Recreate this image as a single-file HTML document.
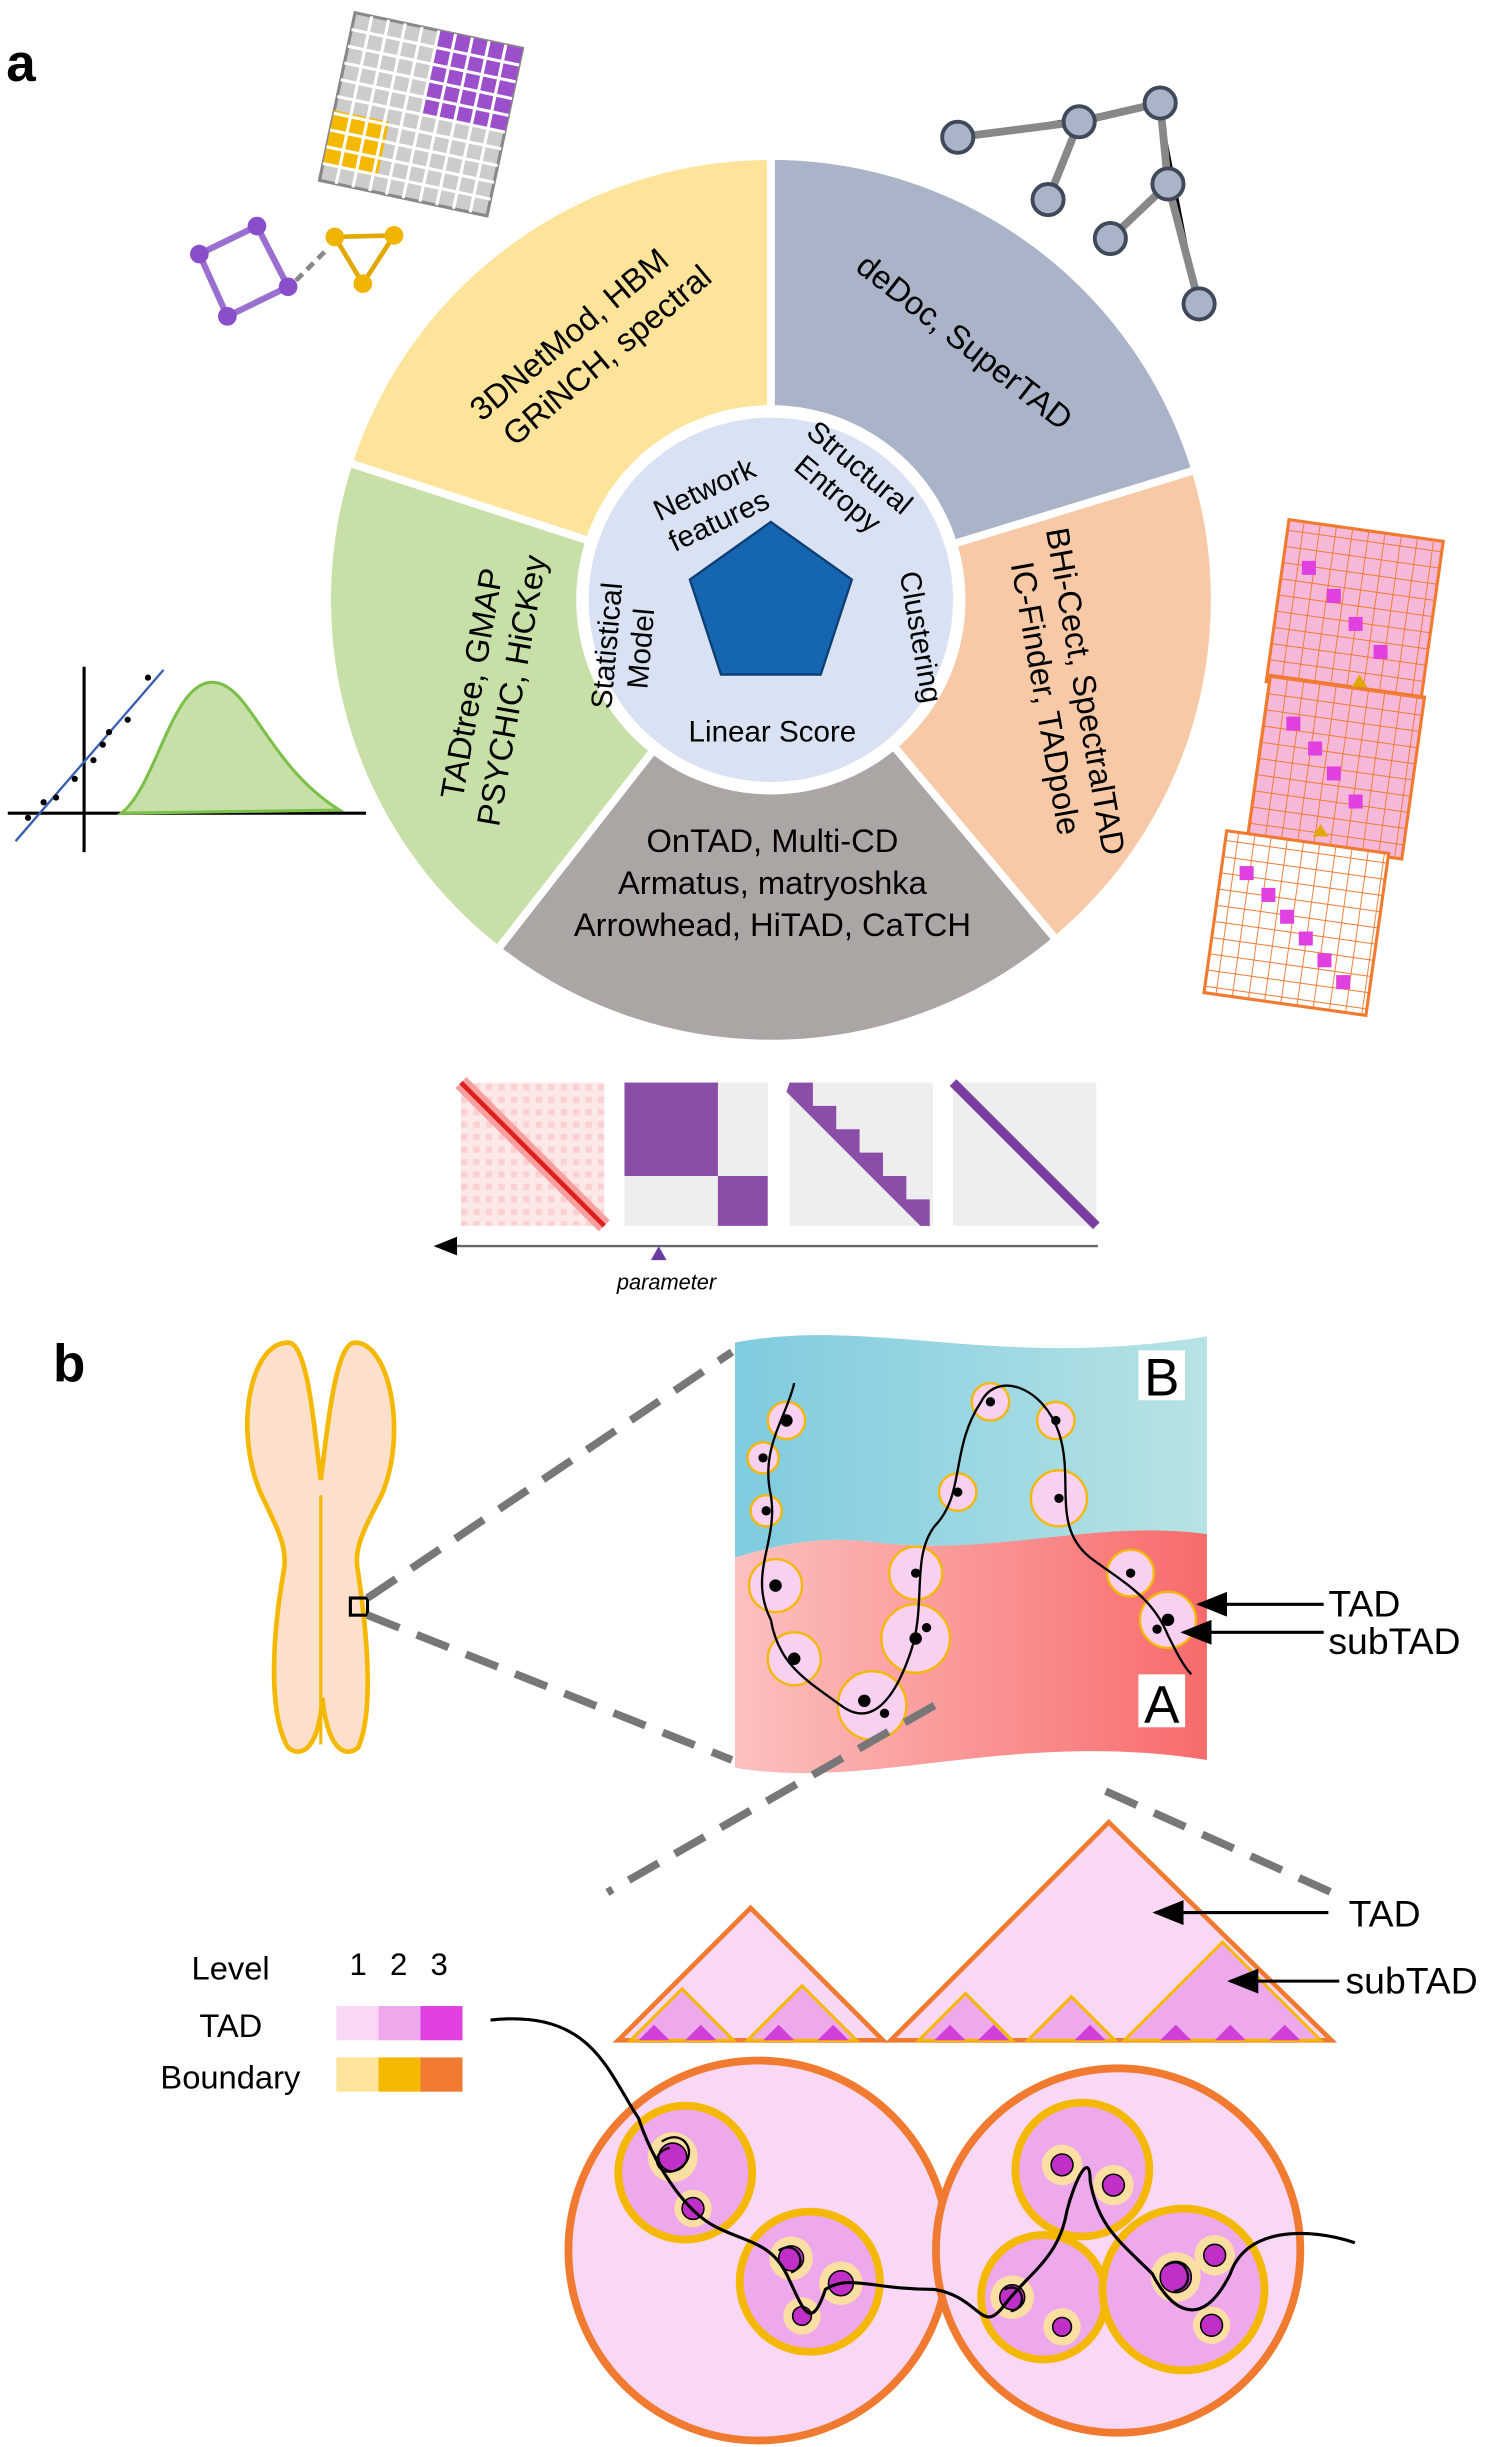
<!DOCTYPE html>
<html><head><meta charset="utf-8"><style>
html,body{margin:0;padding:0;background:#fff}
svg{display:block}
text{font-family:"Liberation Sans",Arial,sans-serif}
</style></head><body>
<svg width="1495" height="2447" viewBox="0 0 960 1571" xmlns="http://www.w3.org/2000/svg">
<defs>
<linearGradient id="gb" x1="0" x2="1"><stop offset="0" stop-color="#7fcbe0"/><stop offset="1" stop-color="#b7e3e3"/></linearGradient>
<linearGradient id="gr" x1="0" x2="1"><stop offset="0" stop-color="#fcc0c0"/><stop offset="1" stop-color="#f86b6b"/></linearGradient>
<marker id="ah" markerWidth="10" markerHeight="8" refX="9" refY="4" orient="auto"><path d="M0,0L10,4L0,8z" fill="#000"/></marker>
<pattern id="grd" width="10.5" height="10.5" patternUnits="userSpaceOnUse"><path d="M0,0H10.5M0,0V10.5" stroke="#f07a30" stroke-width="1.2" fill="none"/></pattern>
<pattern id="hm" width="8" height="8" patternUnits="userSpaceOnUse"><rect width="8" height="8" fill="#fde8e8"/><rect width="4" height="4" fill="#fbd0d0"/></pattern>
</defs>
<text x="4" y="52" font-size="34" font-weight="bold">a</text>
<text x="34" y="887" font-size="34" font-weight="bold">b</text>

<g transform="translate(495,385)" stroke="#fff" stroke-width="5">
<path d="M0,-285 A285,285 0 0 1 272.6,-83.3 L0,0z" fill="#aab4c8"/>
<path d="M272.6,-83.3 A285,285 0 0 1 183.2,218.3 L0,0z" fill="#f7c9a6"/>
<path d="M183.2,218.3 A285,285 0 0 1 -175.5,224.6 L0,0z" fill="#aba6a4"/>
<path d="M-175.5,224.6 A285,285 0 0 1 -271,-88 L0,0z" fill="#c6e0a8"/>
<path d="M-271,-88 A285,285 0 0 1 0,-285 L0,0z" fill="#fde49a"/>
<circle r="125" fill="#fff" stroke="none"/>
<circle r="117" fill="#d8e2f2" stroke="none"/>
<path d="M0,-50 L52,-13 L32,48 L-32,48 L-52,-13z" fill="#1565b0" stroke="#0d3f75" stroke-width="1.5"/>
</g>
<g font-size="19" text-anchor="middle">
<text transform="translate(455,320) rotate(-25)">Network<tspan x="0" dy="22">features</tspan></text>
<text transform="translate(548,305) rotate(40)">Structural<tspan x="0" dy="22">Entropy</tspan></text>
<text transform="translate(585,410) rotate(80)">Clustering</text>
<text x="496" y="476">Linear Score</text>
<text transform="translate(396,415) rotate(-85)">Statistical<tspan x="0" dy="22">Model</tspan></text>
</g>
<g font-size="21" text-anchor="middle">
<text transform="translate(370,220) rotate(-40)">3DNetMod, HBM<tspan x="10" dy="26">GRiNCH, spectral</tspan></text>
<text transform="translate(615,225) rotate(38)">deDoc, SuperTAD</text>
<text transform="translate(690,445) rotate(80)">BHi-Cect, SpectralTAD<tspan x="0" dy="26">IC-Finder, TADpole</tspan></text>
<text x="496" y="547">OnTAD, Multi-CD</text>
<text x="496" y="574">Armatus, matryoshka</text>
<text x="496" y="601">Arrowhead, HiTAD, CaTCH</text>
<text transform="translate(310,440) rotate(-80)">TADtree, GMAP<tspan x="0" dy="26">PSYCHIC, HiCKey</tspan></text>
</g>

<g transform="translate(228,8) rotate(12)">
<rect width="110" height="110" fill="#ccc"/>
<rect x="0" y="0" width="110" height="110" fill="none" stroke="#888" stroke-width="2"/>
<rect x="55" y="0" width="55" height="55" fill="#9b4fcb"/>
<rect x="0" y="64" width="36" height="36" fill="#f5b800"/>
<g stroke="#fff" stroke-width="2"><path d="M11,0V110M22,0V110M33,0V110M44,0V110M55,0V110M66,0V110M77,0V110M88,0V110M99,0V110M0,11H110M0,22H110M0,33H110M0,44H110M0,55H110M0,66H110M0,77H110M0,88H110M0,99H110"/></g>
</g>
<g stroke="#9b6fd0" stroke-width="4" fill="none"><path d="M128,163L165,145L185,184L146,203z"/></g>
<g fill="#8a4ecb"><circle cx="128" cy="163" r="6"/><circle cx="165" cy="145" r="6"/><circle cx="185" cy="184" r="6"/><circle cx="146" cy="203" r="6"/></g>
<path d="M190,180L210,160" stroke="#888" stroke-width="3" stroke-dasharray="6,4"/>
<path d="M215,152L253,151L233,182z" stroke="#e0a800" stroke-width="3" fill="none"/>
<g fill="#f0b400"><circle cx="215" cy="152" r="6"/><circle cx="253" cy="151" r="6"/><circle cx="233" cy="182" r="6"/></g>

<g stroke="#888" stroke-width="5"><path d="M615,88L693,78L745,66M693,78L673,128M745,66L750,118L770,195M750,118L713,153"/></g>
<g fill="#aab4c8" stroke="#3d4a5a" stroke-width="2.5"><circle cx="615" cy="88" r="10"/><circle cx="693" cy="78" r="10"/><circle cx="745" cy="66" r="10"/><circle cx="673" cy="128" r="10"/><circle cx="750" cy="118" r="10"/><circle cx="713" cy="153" r="10"/><circle cx="770" cy="195" r="10"/></g>

<path d="M54,428V547M5,522H235" stroke="#000" stroke-width="2"/>
<path d="M10,540L105,430" stroke="#3a5fb0" stroke-width="1.5"/>
<g fill="#000"><circle cx="18" cy="525" r="2"/><circle cx="28" cy="515" r="2"/><circle cx="36" cy="512" r="2"/><circle cx="48" cy="500" r="2"/><circle cx="60" cy="488" r="2"/><circle cx="70" cy="470" r="2"/><circle cx="82" cy="462" r="2"/><circle cx="95" cy="435" r="2"/><circle cx="66" cy="478" r="2"/></g>
<path d="M78,522C100,505 110,440 135,438C160,436 170,490 218,520Z" fill="#c6e0a8" stroke="#7cc04a" stroke-width="2"/>

<g transform="rotate(8 870 392)"><rect x="820" y="340" width="100" height="105" fill="#f6b8d8"/><rect x="820" y="340" width="100" height="105" fill="url(#grd)" stroke="#f07a30" stroke-width="2"/></g>
<g transform="rotate(8 858 492)"><rect x="808" y="440" width="100" height="105" fill="#f6b8d8"/><rect x="808" y="440" width="100" height="105" fill="url(#grd)" stroke="#f07a30" stroke-width="2"/></g>
<g transform="rotate(8 832 592)"><rect x="780" y="540" width="105" height="105" fill="#fff"/><rect x="780" y="540" width="105" height="105" fill="url(#grd)" stroke="#f07a30" stroke-width="2"/></g>
<g fill="#e040e0"><rect x="796" y="556" width="9" height="9"/><rect x="810" y="570" width="9" height="9"/><rect x="822" y="584" width="9" height="9"/><rect x="834" y="598" width="9" height="9"/><rect x="846" y="612" width="9" height="9"/><rect x="858" y="626" width="9" height="9"/>
<rect x="826" y="460" width="9" height="9"/><rect x="840" y="476" width="9" height="9"/><rect x="852" y="492" width="9" height="9"/><rect x="866" y="510" width="9" height="9"/>
<rect x="836" y="360" width="9" height="9"/><rect x="852" y="378" width="9" height="9"/><rect x="866" y="396" width="9" height="9"/><rect x="882" y="414" width="9" height="9"/></g>
<path d="M843,537l5,-8l5,8zM868,441l5,-8l5,8z" fill="#e0a800"/>

<rect x="296" y="695" width="92" height="92" fill="url(#hm)"/>
<path d="M296,695L388,787" stroke="#f8a0a0" stroke-width="10"/>
<path d="M296,695L388,787" stroke="#e02020" stroke-width="3"/>
<rect x="401" y="695" width="92" height="92" fill="#eee"/>
<rect x="401" y="695" width="60" height="60" fill="#8a4ea8"/><rect x="461" y="755" width="32" height="32" fill="#8a4ea8"/>
<rect x="507" y="695" width="92" height="92" fill="#eee"/>
<path d="M507,695h15v15h15v15h15v15h15v15h15v15h15v17h-6l-86,-86z" fill="#8a4ea8"/>
<rect x="612" y="695" width="92" height="92" fill="#eee"/>
<path d="M612,695L704,787" stroke="#7a3ea0" stroke-width="6"/>
<path d="M705,800H280" stroke="#666" stroke-width="1.5" marker-end="url(#ah)"/>
<path d="M418,809l5,-9l5,9z" fill="#6a3aa0"/>
<text x="428" y="828" font-size="14" font-style="italic" text-anchor="middle">parameter</text>

<path d="M185,862C160,862 150,920 168,960C180,985 185,995 182,1010C175,1050 172,1100 185,1122C195,1130 205,1120 207,1090C210,1120 220,1130 230,1122C240,1100 236,1050 230,1010C227,995 232,985 245,960C262,920 250,862 228,862C215,862 210,920 206,950C202,920 198,862 185,862Z" fill="#fde0cc" stroke="#f5b800" stroke-width="3"/>
<path d="M206,960V1120" stroke="#f5b800" stroke-width="2"/>
<rect x="225" y="1026" width="11" height="11" fill="none" stroke="#000" stroke-width="2"/>
<path d="M236,1026L470,868M236,1037L470,1130" stroke="#777" stroke-width="5" stroke-dasharray="22,12"/>

<path d="M472,862C560,845 640,880 775,858V990C700,975 640,1000 560,990C520,985 490,995 472,1000Z" fill="url(#gb)"/>
<path d="M472,1000C490,995 520,985 560,990C640,1000 700,975 775,985V1130C650,1110 560,1150 472,1135Z" fill="url(#gr)"/>
<rect x="731" y="867" width="30" height="32" fill="#fff"/><text x="746" y="896" font-size="34" text-anchor="middle">B</text>
<rect x="731" y="1075" width="30" height="34" fill="#fff"/><text x="746" y="1106" font-size="34" text-anchor="middle">A</text>
<g fill="#f8d0f0" stroke="#f5b800" stroke-width="1.5">
<circle cx="505" cy="912" r="12"/><circle cx="490" cy="936" r="10"/><circle cx="492" cy="970" r="10"/>
<circle cx="498" cy="1018" r="17"/><circle cx="510" cy="1065" r="17"/><circle cx="560" cy="1095" r="22"/><circle cx="588" cy="1052" r="22"/><circle cx="588" cy="1010" r="17"/>
<circle cx="615" cy="958" r="12"/><circle cx="636" cy="900" r="12"/><circle cx="678" cy="912" r="12"/><circle cx="680" cy="962" r="18"/>
<circle cx="726" cy="1010" r="15"/><circle cx="750" cy="1040" r="18"/></g>
<path d="M510,888C505,910 488,930 495,960C500,990 480,1010 495,1040C500,1070 520,1080 540,1095C560,1110 575,1090 585,1060C595,1030 585,1000 600,980C620,960 610,930 630,900C640,880 670,890 680,920C690,950 675,980 700,1000C720,1015 740,1025 750,1050C755,1060 760,1070 765,1075" fill="none" stroke="#000" stroke-width="1.5"/>
<g fill="#000"><circle cx="505" cy="912" r="4"/><circle cx="490" cy="936" r="3"/><circle cx="492" cy="970" r="3"/><circle cx="498" cy="1018" r="4"/><circle cx="510" cy="1065" r="4"/><circle cx="555" cy="1092" r="4"/><circle cx="568" cy="1100" r="3"/><circle cx="588" cy="1052" r="4"/><circle cx="595" cy="1045" r="3"/><circle cx="588" cy="1010" r="3"/><circle cx="615" cy="958" r="3"/><circle cx="636" cy="900" r="3"/><circle cx="678" cy="912" r="3"/><circle cx="680" cy="962" r="3"/><circle cx="726" cy="1010" r="3"/><circle cx="750" cy="1040" r="4"/><circle cx="743" cy="1046" r="3"/></g>
<path d="M850,1030H770" stroke="#000" stroke-width="2" marker-end="url(#ah)"/>
<path d="M850,1048H760" stroke="#000" stroke-width="2" marker-end="url(#ah)"/>
<text x="853" y="1038" font-size="24">TAD</text><text x="853" y="1062" font-size="24">subTAD</text>
<path d="M600,1095L390,1215M710,1150L855,1215" stroke="#777" stroke-width="5" stroke-dasharray="22,12"/>

<path d="M397,1310L482,1225L567,1310Z" fill="#f8d8f4" stroke="#f07a30" stroke-width="3"/>
<path d="M572,1310L712,1170L855,1310Z" fill="#f8d8f4" stroke="#f07a30" stroke-width="3"/>
<path d="M405,1310L438,1277L471,1310ZM480,1310L515,1275L550,1310ZM590,1310L620,1280L650,1310ZM660,1310L688,1282L716,1310ZM722,1310L785,1247L848,1310Z" fill="#eea8ec" stroke="#f5b800" stroke-width="2"/>
<path d="M410,1310l10,-10l10,10zM440,1310l10,-10l10,10zM490,1310l10,-10l10,10zM525,1310l10,-10l10,10zM600,1310l10,-10l10,10zM628,1310l10,-10l10,10zM690,1310l10,-10l10,10zM745,1310l10,-10l10,10zM780,1310l10,-10l10,10zM815,1310l10,-10l10,10z" fill="#d040d8"/>
<path d="M853,1228H742" stroke="#000" stroke-width="2" marker-end="url(#ah)"/>
<path d="M860,1272H790" stroke="#000" stroke-width="2" marker-end="url(#ah)"/>
<text x="866" y="1237" font-size="24">TAD</text><text x="864" y="1280" font-size="24">subTAD</text>

<text x="123" y="1271" font-size="21">Level</text>
<text x="230" y="1268" font-size="20" text-anchor="middle">1</text><text x="256" y="1268" font-size="20" text-anchor="middle">2</text><text x="282" y="1268" font-size="20" text-anchor="middle">3</text>
<text x="128" y="1308" font-size="21">TAD</text><text x="103" y="1341" font-size="21">Boundary</text>
<rect x="216" y="1288" width="27" height="22" fill="#f8d8f4"/><rect x="243" y="1288" width="27" height="22" fill="#eea8ec"/><rect x="270" y="1288" width="27" height="22" fill="#e040e0"/>
<rect x="216" y="1321" width="27" height="22" fill="#fde49a"/><rect x="243" y="1321" width="27" height="22" fill="#f5b800"/><rect x="270" y="1321" width="27" height="22" fill="#f07a30"/>

<circle cx="487" cy="1445" r="122" fill="#f8d8f4" stroke="#f07a30" stroke-width="5"/>
<circle cx="718" cy="1445" r="117" fill="#f8d8f4" stroke="#f07a30" stroke-width="5"/>
<g fill="#eea8ec" stroke="#f5b800" stroke-width="5">
<circle cx="440" cy="1395" r="43"/><circle cx="520" cy="1465" r="45"/>
<circle cx="695" cy="1393" r="43"/><circle cx="670" cy="1475" r="40"/><circle cx="760" cy="1470" r="52"/></g>
<g fill="#fde49a" opacity="0.9"><circle cx="432" cy="1385" r="16"/><circle cx="445" cy="1418" r="12"/><circle cx="508" cy="1450" r="14"/><circle cx="540" cy="1466" r="14"/><circle cx="515" cy="1487" r="12"/><circle cx="682" cy="1390" r="13"/><circle cx="715" cy="1403" r="13"/><circle cx="650" cy="1475" r="14"/><circle cx="682" cy="1494" r="12"/><circle cx="755" cy="1462" r="16"/><circle cx="780" cy="1448" r="13"/><circle cx="778" cy="1493" r="12"/></g>
<g fill="#c030c8" stroke="#000" stroke-width="1"><circle cx="432" cy="1385" r="9"/><circle cx="445" cy="1418" r="7"/><circle cx="508" cy="1450" r="8"/><circle cx="540" cy="1466" r="8"/><circle cx="515" cy="1487" r="6"/><circle cx="682" cy="1390" r="7"/><circle cx="715" cy="1403" r="7"/><circle cx="650" cy="1475" r="8"/><circle cx="682" cy="1494" r="6"/><circle cx="755" cy="1462" r="10"/><circle cx="780" cy="1448" r="7"/><circle cx="778" cy="1493" r="7"/></g>
<path d="M315,1297C380,1290 390,1330 410,1360C420,1390 440,1420 460,1430C480,1440 495,1440 505,1460C515,1480 520,1500 530,1470C545,1460 560,1470 600,1470C630,1475 630,1500 645,1480C660,1460 680,1450 685,1420C690,1400 700,1380 700,1400C705,1430 720,1440 740,1460C750,1480 770,1500 790,1460C800,1430 840,1430 870,1440" fill="none" stroke="#000" stroke-width="2"/>
<path d="M425,1375c15,-10 25,10 10,18c-12,6 -20,-10 -5,-14M500,1445c12,-8 20,10 8,14M645,1470c12,-6 16,12 4,14M748,1455c14,-10 22,14 6,16" fill="none" stroke="#000" stroke-width="1.5"/>
</svg>
</body></html>
